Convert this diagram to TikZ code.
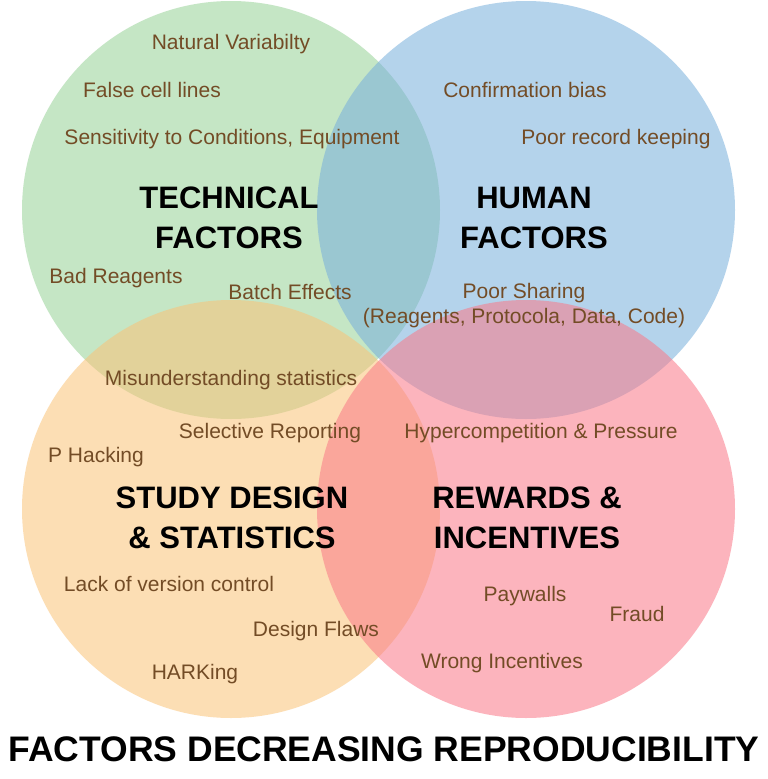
\documentclass[tikz,border=0pt]{standalone}
\usepackage{fontspec}
\setmainfont{Liberation Sans}
\begin{document}
\begin{tikzpicture}[x=1pt,y=-1pt,
  circ/.style={fill opacity=0.55,draw=none},
  lab/.style={text=brown!60!black,font=\fontsize{21}{25}\selectfont,inner sep=0pt},
  head/.style={font=\bfseries\fontsize{31}{40}\selectfont,align=center,inner sep=0pt},
  title/.style={font=\bfseries\fontsize{35.5}{40}\selectfont,inner sep=0pt}]
\useasboundingbox (0,0) rectangle (768,779);
\fill[white] (0,0) rectangle (768,779);
\fill[circ,fill={rgb,255:red,150;green,210;blue,150}] (231,210) circle (209);
\fill[circ,fill={rgb,255:red,120;green,175;blue,220}] (526,210) circle (209);
\fill[circ,fill={rgb,255:red,250;green,195;blue,120}] (231,509) circle (209);
\fill[circ,fill={rgb,255:red,250;green,120;blue,135}] (526,509) circle (209);
\node[head] (tf) at (229,218) {TECHNICAL\\FACTORS};
\node[head] (hf) at (534,218) {HUMAN\\FACTORS};
\node[head] (sd) at (232,518) {STUDY DESIGN\\\& STATISTICS};
\node[head] (ri) at (527,518) {REWARDS \&\\INCENTIVES};
\node[lab] (l1) at (231,44) {Natural Variabilty};
\node[lab] (l2) at (152,90) {False cell lines};
\node[lab] (l3) at (232,139) {Sensitivity to Conditions, Equipment};
\node[lab] (l4) at (116,278) {Bad Reagents};
\node[lab] (l5) at (290,292) {Batch Effects};
\node[lab] (l6) at (525,90) {Confirmation bias};
\node[lab] (l7) at (616,139) {Poor record keeping};
\node[lab,align=center] (l8) at (524,306) {Poor Sharing\\(Reagents, Protocola, Data, Code)};
\node[lab] (l9) at (231,380) {Misunderstanding statistics};
\node[lab] (l10) at (270,433) {Selective Reporting};
\node[lab] (l11) at (96,457) {P Hacking};
\node[lab] (l12) at (541,433) {Hypercompetition \& Pressure};
\node[lab] (l13) at (169,584) {Lack of version control};
\node[lab] (l14) at (316,631) {Design Flaws};
\node[lab] (l15) at (195,674) {HARKing};
\node[lab] (l16) at (525,596) {Paywalls};
\node[lab] (l17) at (637,614) {Fraud};
\node[lab] (l18) at (502,663) {Wrong Incentives};
\node[title] (t) at (384,749) {FACTORS DECREASING REPRODUCIBILITY};
\end{tikzpicture}
\end{document}
